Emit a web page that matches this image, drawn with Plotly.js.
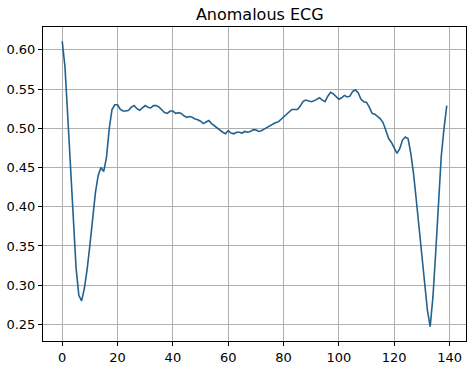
<!DOCTYPE html>
<html>
<head>
<meta charset="utf-8">
<script src="https://cdn.plot.ly/plotly-3.0.1.min.js"></script>
<style>html,body{margin:0;padding:0;background:#fff;} #chart{width:474px;height:370px;}</style>
</head>
<body>
<div id="chart"></div>
<script>
const chartTitle = "Anomalous ECG";
const ecgValues = [
  0.611, 0.578, 0.515, 0.452, 0.377, 0.322, 0.287, 0.280, 0.296, 0.320,
  0.351, 0.386, 0.418, 0.440, 0.450, 0.445, 0.463, 0.500, 0.524, 0.530,
  0.530, 0.524, 0.522, 0.522, 0.523, 0.527, 0.529, 0.525, 0.523, 0.526,
  0.529, 0.527, 0.526, 0.529, 0.529, 0.527, 0.524, 0.520, 0.519, 0.522,
  0.522, 0.519, 0.520, 0.519, 0.516, 0.514, 0.515, 0.514, 0.512, 0.511,
  0.509, 0.506, 0.508, 0.510, 0.506, 0.503, 0.501, 0.498, 0.495, 0.493,
  0.497, 0.494, 0.493, 0.495, 0.495, 0.494, 0.496, 0.495, 0.496, 0.498,
  0.498, 0.496, 0.497, 0.499, 0.501, 0.503, 0.506, 0.507, 0.508, 0.511,
  0.515, 0.517, 0.520, 0.524, 0.524, 0.524, 0.528, 0.534, 0.536, 0.535,
  0.534, 0.535, 0.537, 0.539, 0.536, 0.534, 0.541, 0.546, 0.544, 0.541,
  0.537, 0.539, 0.542, 0.540, 0.541, 0.547, 0.549, 0.545, 0.537, 0.534,
  0.533, 0.527, 0.519, 0.518, 0.515, 0.512, 0.507, 0.497, 0.487, 0.482,
  0.474, 0.468, 0.474, 0.485, 0.489, 0.487, 0.468, 0.442, 0.408, 0.372,
  0.338, 0.303, 0.268, 0.247, 0.285, 0.342, 0.410, 0.464, 0.500, 0.529
];
const sampleIndex = ecgValues.map((_, i) => i);
const xTickValues = [0, 20, 40, 60, 80, 100, 120, 140];
const yTickValues = [0.25, 0.30, 0.35, 0.40, 0.45, 0.50, 0.55, 0.60];
const yTickLabels = ["0.25", "0.30", "0.35", "0.40", "0.45", "0.50", "0.55", "0.60"];

const n = sampleIndex.length - 1;
const xPad = n * 0.05;
const yMin = Math.min(...ecgValues), yMax = Math.max(...ecgValues);
const yPad = (yMax - yMin) * 0.05;

const axisCommon = {
  showline: true, linecolor: "#000", linewidth: 1, mirror: true,
  ticks: "outside", ticklen: 4, tickwidth: 1, tickcolor: "#000",
  showgrid: true, gridcolor: "#b0b0b0", gridwidth: 1,
  zeroline: false,
  tickfont: {family: "DejaVu Sans", size: 13, color: "#000"}
};

const trace = {
  x: sampleIndex, y: ecgValues, type: "scatter", mode: "lines",
  line: {color: "#23618f", width: 1.6}, hoverinfo: "skip"
};

const layout = {
  width: 474, height: 370,
  margin: {l: 43, r: 8, t: 27, b: 29},
  paper_bgcolor: "#fff", plot_bgcolor: "#fff",
  showlegend: false,
  title: {text: chartTitle, x: 0.548, xanchor: "center", y: 0.96, yanchor: "middle",
          font: {family: "DejaVu Sans", size: 16, color: "#000"}},
  xaxis: Object.assign({}, axisCommon, {
    range: [-xPad, n + xPad], tickmode: "array", tickvals: xTickValues,
    ticktext: xTickValues.map(String)
  }),
  yaxis: Object.assign({}, axisCommon, {
    range: [yMin - yPad, yMax + yPad], tickmode: "array", tickvals: yTickValues,
    ticktext: yTickLabels
  })
};

Plotly.newPlot("chart", [trace], layout, {staticPlot: true, displayModeBar: false});
</script>
</body>
</html>
